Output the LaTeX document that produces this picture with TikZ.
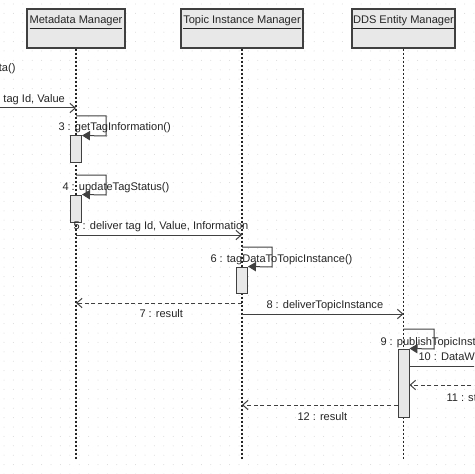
\documentclass[tikz,border=0pt]{standalone}
\usepackage{fontspec}
\setmainfont{Liberation Sans}
\usetikzlibrary{arrows.meta}

\definecolor{boxfill}{HTML}{E8E8E8}
\definecolor{boxline}{HTML}{404040}
\definecolor{gridgray}{HTML}{D8D8D8}

\tikzset{every picture/.style={line width=0.75pt}}
\tikzset{
  head/.style={draw=boxline, fill=boxfill, line width=1pt, inner sep=0pt},
  lifeline/.style={draw=black!85, dash pattern=on 1.5pt off 1.5pt, line width=0.9pt},
  activ/.style={draw=boxline, fill=boxfill, inner sep=0pt, minimum width=8.25pt},
  msg/.style={draw=black!75, -{Straight Barb[length=4pt,width=7pt]}},
  ret/.style={msg, dash pattern=on 3pt off 2pt},
  selfmsg/.style={draw=black!75, -{Triangle[length=6pt,width=7pt]}},
  lbl/.style={font=\fontsize{8.3}{9}\selectfont, inner sep=0pt, text=black!85}
}

\begin{document}
\begin{tikzpicture}[x=0.75pt,y=0.75pt,yscale=-1,xscale=1]
\useasboundingbox (0,0) rectangle (474,474);
\clip (0,0) rectangle (474,474);
\fill[white] (0,0) rectangle (474,474);

%Grid of dots
\foreach \i in {0,...,50}
  \foreach \j in {0,...,50}
    \fill[gridgray] (4+\i*9.4,4+\j*9.4) circle (0.5);

%Lifeline heads
\node[head, minimum width=73.5pt, minimum height=29.25pt] (meta) at (76,28.5) {};
\node[head, minimum width=91.5pt, minimum height=29.25pt] (topic) at (242,28.5) {};
\node[head, minimum width=77.25pt, minimum height=29.25pt] (dds) at (403.5,28.5) {};
\node[lbl, anchor=base] (metaT) at (76,24) {\underline{Metadata Manager}};
\node[lbl, anchor=base] (topicT) at (242,24) {\underline{Topic Instance Manager}};
\node[lbl, anchor=base] (ddsT) at (403.5,24) {\underline{DDS Entity Manager}};

%Lifelines
\path (meta.south) ++(0,412) coordinate (metaEnd);
\path (topic.south) ++(0,410) coordinate (topicEnd);
\path (dds.south) ++(0,410) coordinate (ddsEnd);
\draw[lifeline] (meta.south) -- (metaEnd);
\draw[lifeline] (topic.south) -- (topicEnd);
\draw[lifeline] (dds.south) -- (ddsEnd);

%Activation bars
\node[activ, minimum height=19.5pt] (act3) at (76,149) {};
\node[activ, minimum height=20.25pt] (act4) at (76,208.5) {};
\node[activ, minimum height=19.5pt] (act6) at (242,280) {};
\node[activ, minimum height=51pt] (act9) at (403.5,383) {};

%Message rows
\coordinate (y2) at (0,108);
\coordinate (y3) at (0,116);
\coordinate (y4) at (0,175);
\coordinate (y5) at (0,235);
\coordinate (y6) at (0,247);
\coordinate (y7) at (0,303);
\coordinate (y8) at (0,314);
\coordinate (y9) at (0,329);
\coordinate (y10) at (0,366);
\coordinate (y11) at (0,385);
\coordinate (y12) at (0,405);
\coordinate (left2) at (-4,108);
\coordinate (right10) at (478,366);
\coordinate (right11) at (478,385);

% 1, 2
\node[lbl, anchor=base east] (l1) at (16,72) {ta()};
\draw[msg] (left2) -- (meta.south |- y2);
\node[lbl, anchor=base west] (l2) at (3,103) {tag Id, Value};

% 3
\draw[selfmsg] (meta.south |- y3) -- (106,116) -- (106,136) -- (act3.north east);
\node[lbl, anchor=base west] (l3) at (58,131) {3 : getTagInformation()};

% 4
\draw[selfmsg] (meta.south |- y4) -- (106,175) -- (106,195) -- (act4.north east);
\node[lbl, anchor=base west] (l4) at (62,190) {4 : updateTagStatus()};

% 5
\draw[msg] (meta.south |- y5) -- (topic.south |- y5);
\node[lbl, anchor=base west] (l5) at (73,229.5) {5 : deliver tag Id, Value, Information};

% 6
\draw[selfmsg] (topic.south |- y6) -- (272,247) -- (272,267) -- (act6.north east);
\node[lbl, anchor=base west] (l6) at (210,262) {6 : tagDataToTopicInstance()};

% 7
\draw[ret] (topic.south |- y7) -- (meta.south |- y7);
\node[lbl, anchor=base west] (l7) at (139,317) {7 : result};

% 8
\draw[msg] (topic.south |- y8) -- (dds.south |- y8);
\node[lbl, anchor=base west] (l8) at (266,308) {8 : deliverTopicInstance};

% 9
\draw[selfmsg] (dds.south |- y9) -- (434,329) -- (434,349) -- (act9.north east);
\node[lbl, anchor=base west] (l9) at (380,345) {9 : publishTopicInst};

% 10
\draw[draw=black!75] (act9.east |- y10) -- (right10);
\node[lbl, anchor=base west] (l10) at (418,360) {10 : DataWr};

% 11
\draw[ret] (right11) -- (act9.east |- y11);
\node[lbl, anchor=base west] (l11) at (446,401) {11 : st};

% 12
\draw[ret] (act9.west |- y12) -- (topic.south |- y12);
\node[lbl, anchor=base west] (l12) at (297,420) {12 : result};

\end{tikzpicture}
\end{document}
